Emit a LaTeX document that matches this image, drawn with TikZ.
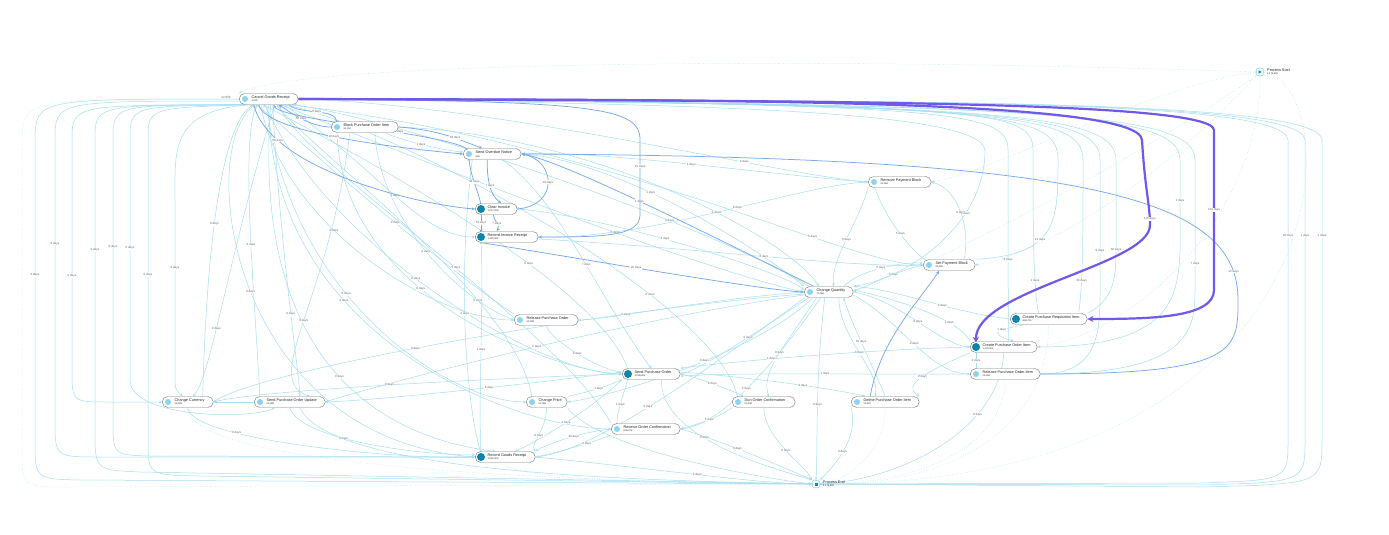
\documentclass[tikz,border=0pt]{standalone}
\usepackage{fontspec}
\setmainfont{Liberation Sans}
\usetikzlibrary{arrows.meta,calc}
\pgfdeclarelayer{bg}
\pgfsetlayers{bg,main}
\definecolor{eb}{RGB}{165,222,241}
\definecolor{mb}{RGB}{120,168,236}
\definecolor{pp}{RGB}{112,88,232}
\definecolor{dk}{RGB}{12,132,172}
\definecolor{lc}{RGB}{140,212,236}
\definecolor{bd}{RGB}{125,125,125}
\tikzset{
 actbox/.style={draw=bd, line width=0.45pt, fill=white, rounded corners=5.5pt, minimum height=11pt, inner sep=0, anchor=west},
 ldot/.style={circle, fill=lc, minimum size=6pt, inner sep=0},
 ddot/.style={circle, fill=dk, minimum size=8pt, inner sep=0},
 atext/.style={anchor=west, align=left, inner sep=0, text=black!85, font=\fontsize{3.8}{4.2}\selectfont},
 e/.style={draw=eb, line width=0.5pt, -{Stealth[length=3pt,width=2.6pt]}},
 ed/.style={e, dotted},
 em/.style={draw=mb, line width=0.75pt, -{Stealth[length=3.5pt,width=3pt]}},
 ep/.style={draw=pp, line width=2.2pt, -{Stealth[length=6pt,width=6pt]}},
 lbl/.style={font=\fontsize{3}{3}\selectfont, text=black!60, fill=white, inner sep=0.4pt},
 pend/.style={draw=lc, line width=0.6pt, fill=white, rounded corners=1.5pt, minimum size=7.5pt, inner sep=0}
}
\newcommand\actnode[7]{%
 \node[actbox, minimum width={#3-#2}] (#1) at (#2,#4) {};
 \node[#7] (#1C) at (#2+6,#4) {};
 \node[atext] (#1T) at (#2+12.5,#4) {#5\\[-0.9pt]{\fontsize{2.4}{2.8}\selectfont #6}};
}
\begin{document}
\begin{tikzpicture}[x=1pt,y=-1pt]
\path[use as bounding box] (0,0) rectangle (1389,535);
\begin{pgfonlayer}{bg}
\fill[white] (0,0) rectangle (1389,535);
\end{pgfonlayer}
% ---------- nodes ----------
\node[pend] (ps) at (1260,72) {};
\fill[dk] (1258.6,70.2) -- (1258.6,73.8) -- (1261.8,72) -- cycle;
\node[atext] (psT) at (1267,72) {Process Start\\[-0.9pt]{\fontsize{2.4}{2.8}\selectfont 1,175,808}};
\node[pend] (pe) at (816,484) {};
\node[fill=dk, minimum size=3pt, inner sep=0] (peI) at (816,484) {};
\node[atext] (peT) at (823,484) {Process End\\[-0.9pt]{\fontsize{2.4}{2.8}\selectfont 1,175,808}};
\actnode{cgr}{239}{298}{99}{Cancel Goods Receipt}{3,602}{ldot}
\actnode{bpoi}{331}{398}{127}{Block Purchase Order Item}{51,350}{ldot}
\actnode{son}{463}{521}{154}{Send Overdue Notice}{836}{ldot}
\actnode{rpb}{868}{931}{182}{Remove Payment Block}{25,058}{ldot}
\actnode{ci}{475}{517}{209}{Clear Invoice}{1,217,028}{ddot}
\actnode{rir}{475}{538}{237}{Record Invoice Receipt}{1,125,092}{ddot}
\actnode{spb}{923}{975}{265}{Set Payment Block}{25,050}{ldot}
\actnode{cq}{804}{853}{292}{Change Quantity}{70,068}{ldot}
\actnode{rpo}{514}{578}{320}{Release Purchase Order}{25,008}{ldot}
\actnode{cpri}{1010}{1087}{319}{Create Purchase Requisition Item}{838,700}{ddot}
\actnode{cpoi}{970}{1037}{347}{Create Purchase Order Item}{1,175,006}{ddot}
\actnode{spo}{622}{680}{374}{Send Purchase Order}{1,036,604}{ddot}
\actnode{rpoi}{970}{1040}{374}{Release Purchase Order Item}{25,006}{ldot}
\actnode{cc}{162}{213}{402}{Change Currency}{25,008}{ldot}
\actnode{spou}{254}{325}{402}{Send Purchase Order Update}{25,008}{ldot}
\actnode{cp}{526}{567}{402}{Change Price}{50,058}{ldot}
\actnode{doc}{732}{795}{402}{Dun Order Confirmation}{50,138}{ldot}
\actnode{dpoi}{851}{919}{402}{Delete Purchase Order Item}{25,522}{ldot}
\actnode{roc}{611}{680}{429}{Receive Order Confirmation}{506,276}{ldot}
\actnode{rgr}{475}{535}{457}{Record Goods Receipt}{1,015,006}{ddot}
\begin{pgfonlayer}{bg}
% ---------- dotted (start / end) ----------
\draw[ed] (ps.west) .. controls (800,56) and (300,62) .. (cgr.north west);
\node[lbl] (lps) at (226,98) {22,659};
\draw[ed] (ps.south west) .. controls (1150,150) and (950,260) .. (cq.east);
\draw[ed] (ps.west) .. controls (1150,85) and (1000,170) .. (rpb.east);
\draw[ed] (ps.south west) .. controls (1180,160) and (1060,250) .. (spb.east);
\draw[ed] (ps.south) .. controls (1262,200) and (1150,330) .. (cpoi.east);
\draw[ed] (ps.east) .. controls (1352,90) and (1345,484) .. (pe.east);
\draw[ed] (cgr.west) .. controls (24,99) .. (22,140) -- (22,450) .. controls (22,487) .. (70,487) -- (pe.west);
\draw[ed] (cc.south) .. controls (188,470) and (600,482) .. (pe.west);
\draw[ed] (rgr.south) .. controls (505,480) and (700,486) .. (pe.west);
\draw[ed] (cpri.south) .. controls (1048,430) and (950,486) .. (pe.east);
\draw[ed] (rpoi.south) .. controls (1005,440) and (930,484) .. (pe.east);
\draw[ed] (dpoi.south) .. controls (885,450) and (850,480) .. (pe.east);
% ---------- left fan from Cancel Goods Receipt ----------
\draw[e] (cgr.west) .. controls (36,99) .. (35,140) -- (35,440) node[lbl,pos=0.45]{0 days} .. controls (35,479) .. (80,480) -- (pe.west);
\draw[e] ([yshift=-2]cgr.west) .. controls (55,101) .. (55,140) -- (55,420) node[lbl,pos=0.37]{0 days} .. controls (55,457) .. (100,457) -- (rgr.west);
\draw[e] ([xshift=2]cgr.south west) .. controls (72,105) .. (72,140) -- (72,370) node[lbl,pos=0.59]{0 days} .. controls (72,402) .. (110,402) -- (cc.west);
\draw[e] ([xshift=4]cgr.south west) .. controls (95,105) .. (95,140) -- (95,430) node[lbl,pos=0.38]{0 days} .. controls (95,470) .. (140,472) -- (pe.west);
\draw[e] ([xshift=6]cgr.south west) .. controls (113,105) .. (113,140) -- (113,420) node[lbl,pos=0.38]{0 days} .. controls (113,455) .. (150,456) -- (rgr.west);
\draw[e] ([xshift=8]cgr.south west) .. controls (130,106) .. (130,140) -- (130,380) node[lbl,pos=0.45]{0 days} .. controls (130,418) and (250,420) .. ([xshift=-15]spou.south);
\draw[e] ([xshift=10]cgr.south west) .. controls (148,108) .. (148,140) -- (148,440) node[lbl,pos=0.45]{0 days} .. controls (148,475) .. (200,476) -- (pe.west);
\draw[e] ([xshift=12]cgr.south west) .. controls (170,110) and (175,150) .. (175,200) -- (175,370) node[lbl,pos=0.4]{0 days} .. controls (175,390) .. ([xshift=-5]cc.north);
\draw[e] ([xshift=15]cc.north) .. controls (205,300) and (215,130) .. ([xshift=14]cgr.south west) node[lbl,pos=0.5]{0 days};
\draw[e] (spouC.north) .. controls (255,300) and (240,140) .. ([xshift=18]cgr.south west) node[lbl,pos=0.45]{0 days};
\draw[e] (rgr.west) .. controls (230,440) and (195,150) .. ([xshift=16]cgr.south west) node[lbl,pos=0.5]{0 days};
% ---------- mid fan ----------
\draw[e] ([xshift=-8]cgr.south) .. controls (280,220) and (430,320) .. (rpo.west) node[lbl,pos=0.4]{0 days};
\draw[e] ([xshift=-4]cgr.south) .. controls (330,250) and (540,374) .. (spo.west) node[lbl,pos=0.45]{0 days};
\draw[e] ([xshift=-2]cgr.south) .. controls (290,300) and (450,402) .. (cp.west) node[lbl,pos=0.4]{0 days};
\draw[e] (cgr.south) .. controls (270,340) and (520,429) .. (roc.west) node[lbl,pos=0.35]{0 days};
\draw[e] ([xshift=2]cgr.south) .. controls (250,380) and (400,440) .. ([xshift=-10]rgr.north) node[lbl,pos=0.5]{0 days};
\draw[e] ([xshift=4]cgr.south) .. controls (280,250) and (300,380) .. ([xshift=10]spou.north) node[lbl,pos=0.55]{0 days};
\draw[e] ([xshift=6]cgr.south) .. controls (230,250) and (210,380) .. ([xshift=5]cc.north) node[lbl,pos=0.6]{0 days};
\draw[e] ([xshift=12]cgr.south) .. controls (420,160) and (700,270) .. (cq.west) node[lbl,pos=0.6]{0 days};
\draw[e] ([xshift=15]cgr.south) .. controls (380,170) and (420,237) .. (rir.west) node[lbl,pos=0.5]{1 days};
\draw[e] (cgr.east) .. controls (500,105) and (780,175) .. (rpb.west) node[lbl,pos=0.7]{9 days};
\draw[e] ([xshift=20]cgr.south) .. controls (600,140) and (850,265) .. (spb.west) node[lbl,pos=0.7]{5 days};
\draw[e] (rpo.north west) .. controls (420,250) and (300,140) .. ([xshift=-12]cgr.south) node[lbl,pos=0.4]{0 days};
\draw[e] (spoC.north) .. controls (600,280) and (330,140) .. ([xshift=-6]cgr.south) node[lbl,pos=0.35]{0 days};
\draw[e] (cpC.north) .. controls (520,300) and (310,150) .. ([xshift=8]cgr.south) node[lbl,pos=0.3]{0 days};
\draw[e] (roc.north west) .. controls (560,330) and (300,160) .. ([xshift=10]cgr.south) node[lbl,pos=0.45]{0 days};
\draw[e] (docC.north) .. controls (720,300) and (380,120) .. ([xshift=14]cgr.south) node[lbl,pos=0.3]{0 days};
\draw[e] ([xshift=-20]cq.north) .. controls (700,220) and (400,120) .. ([xshift=25]cgr.south) node[lbl,pos=0.3]{0 days};
% ---------- block PO item / overdue notice ----------
\draw[e] (bpoiC.south) .. controls (340,300) and (560,372) .. (spo.west) node[lbl,pos=0.4]{0 days};
\draw[e] ([xshift=-15]bpoi.south) .. controls (330,300) and (260,380) .. ([xshift=20]spou.north) node[lbl,pos=0.5]{0 days};
\draw[e] ([xshift=10]bpoi.south) .. controls (380,220) and (460,300) .. (rpo.west) node[lbl,pos=0.5]{0 days};
\draw[e] (bpoi.east) .. controls (600,135) and (790,240) .. ([xshift=-10]cq.north) node[lbl,pos=0.6]{1 days};
\draw[e] ([xshift=-20]son.south) .. controls (455,300) and (470,420) .. (rgrC.north) node[lbl,pos=0.4]{1 days};
\draw[e] (son.east) .. controls (620,160) and (760,250) .. (cq.north west) node[lbl,pos=0.4]{1 days};
\draw[e] ([xshift=10]son.south) .. controls (560,200) and (600,300) .. (spo.north) node[lbl,pos=0.55]{7 days};
\draw[e] (rir.east) .. controls (650,240) and (800,185) .. (rpb.west) node[lbl,pos=0.55]{9 days};
\draw[e] ([yshift=-2]rir.east) .. controls (700,248) and (850,268) .. (spb.west) node[lbl,pos=0.5]{0 days};
\draw[e] (ci.east) .. controls (600,215) and (780,270) .. ([yshift=2]cq.west) node[lbl,pos=0.45]{8 days};
\draw[e] (rgrC.north) .. controls (478,400) and (484,300) .. (rirC.south) node[lbl,pos=0.5]{1 days};
\draw[e] (rpo.south) .. controls (550,340) and (600,370) .. ([yshift=2]spo.west) node[lbl,pos=0.5]{0 days};
% ---------- Change Quantity fan ----------
\draw[e] ([xshift=-20]cq.south) .. controls (760,330) and (700,370) .. (spo.east) node[lbl,pos=0.4]{0 days};
\draw[e] ([xshift=-16]cq.south) .. controls (760,350) and (620,395) .. (cp.east) node[lbl,pos=0.45]{0 days};
\draw[e] ([xshift=-12]cq.south) .. controls (790,340) and (760,370) .. ([xshift=5]doc.north) node[lbl,pos=0.5]{0 days};
\draw[e] ([xshift=10]cq.south) .. controls (840,340) and (880,370) .. ([xshift=-10]dpoi.north) node[lbl,pos=0.5]{0 days};
\draw[e] ([xshift=-8]cq.south) .. controls (770,370) and (720,425) .. (roc.east) node[lbl,pos=0.5]{0 days};
\draw[e] ([xshift=-24]cq.south) .. controls (720,360) and (600,450) .. (rgr.east) node[lbl,pos=0.55]{0 days};
\draw[e] ([xshift=-4]cq.south) .. controls (815,380) and (818,440) .. (pe.north) node[lbl,pos=0.5]{0 days};
\draw[e] (cq.west) .. controls (700,300) and (620,318) .. (rpo.east) node[lbl,pos=0.7]{0 days};
\draw[e] ([yshift=-2]cq.west) .. controls (600,310) and (260,370) .. (cc.east) node[lbl,pos=0.55]{0 days};
\draw[e] ([yshift=-3]cq.west) .. controls (620,320) and (360,390) .. (spou.east) node[lbl,pos=0.45]{0 days};
\draw[e] (cq.east) .. controls (900,300) and (940,345) .. (cpoi.west) node[lbl,pos=0.5]{0 days};
\draw[e] ([yshift=-3]cq.east) .. controls (900,320) and (930,374) .. (rpoi.west) node[lbl,pos=0.5]{0 days};
\draw[e] (cpri.west) .. controls (950,312) and (900,290) .. (cq.north east) node[lbl,pos=0.4]{2 days};
\draw[e] (cpoi.north west) .. controls (960,320) and (900,300) .. ([yshift=2]cq.east) node[lbl,pos=0.3]{1 days};
\draw[e] (rpb.south west) .. controls (860,220) and (830,260) .. ([xshift=5]cq.north) node[lbl,pos=0.5]{0 days};
\draw[e] (spb.west) .. controls (900,270) and (870,285) .. ([yshift=1]cq.east) node[lbl,pos=0.4]{0 days};
\draw[e] ([xshift=15]cq.north) .. controls (860,270) and (900,262) .. ([yshift=2]spb.west) node[lbl,pos=0.5]{0 days};
\draw[e] (rpbC.south) .. controls (885,220) and (915,255) .. (spbC.north) node[lbl,pos=0.5]{5 days};
\draw[e] ([xshift=15]spb.north) .. controls (970,230) and (960,190) .. (rpb.east) node[lbl,pos=0.5]{8 days};
\draw[e] (dpoi.north) .. controls (870,360) and (850,320) .. ([xshift=15]cq.south) node[lbl,pos=0.5]{20 days};
% ---------- Send Purchase Order and lower nodes ----------
\draw[e] (spoC.south) .. controls (622,400) and (617,410) .. (rocC.north) node[lbl,pos=0.5]{1 days};
\draw[e] (spo.east) .. controls (700,378) and (725,388) .. ([xshift=-20]doc.north) node[lbl,pos=0.5]{9 days};
\draw[e] ([yshift=2]spo.east) .. controls (760,378) and (840,390) .. ([xshift=-20]dpoi.north) node[lbl,pos=0.55]{9 days};
\draw[e] (spo.south west) .. controls (590,410) and (540,440) .. ([xshift=10]rgr.north) node[lbl,pos=0.5]{4 days};
\draw[e] (spo.west) .. controls (500,378) and (260,390) .. (cc.east) node[lbl,pos=0.5]{8 days};
\draw[e] ([yshift=2]spo.west) .. controls (520,385) and (380,400) .. (spou.east) node[lbl,pos=0.4]{8 days};
\draw[e] ([xshift=10]spo.south) .. controls (660,440) and (780,470) .. (pe.north west) node[lbl,pos=0.4]{0 days};
\draw[e] (cpoi.west) .. controls (850,350) and (700,365) .. (spo.north east) node[lbl,pos=0.55]{1 days};
\draw[e] (rpoi.west) .. controls (900,375) and (750,372) .. ([yshift=-2]spo.east) node[lbl,pos=0.5]{1 days};
\draw[e] (cp.south) .. controls (546,430) and (530,445) .. (rgr.north east) node[lbl,pos=0.5]{8 days};
\draw[e] (cp.north east) .. controls (590,392) and (610,385) .. (spo.south west) node[lbl,pos=0.5]{1 days};
\draw[e] (cp.south east) .. controls (600,450) and (760,478) .. (pe.west);
\draw[e] (roc.east) .. controls (720,440) and (790,470) .. (pe.north west) node[lbl,pos=0.4]{0 days};
\draw[e] (roc.west) .. controls (580,432) and (545,445) .. (rgr.north east) node[lbl,pos=0.4]{30 days};
\draw[e] (rgr.east) .. controls (560,452) and (600,440) .. (roc.south west) node[lbl,pos=0.6]{0 days};
\draw[e] (doc.south west) .. controls (715,420) and (690,426) .. (roc.east) node[lbl,pos=0.4]{5 days};
\draw[e] (doc.south) .. controls (765,440) and (805,465) .. (pe.north west) node[lbl,pos=0.5]{0 days};
\draw[e] (dpoi.south west) .. controls (860,440) and (830,470) .. (pe.north east) node[lbl,pos=0.5]{0 days};
\draw[e] (cc.south) .. controls (190,440) and (400,460) .. (rgr.west) node[lbl,pos=0.3]{0 days};
\draw[e] (spou.south) .. controls (300,440) and (420,455) .. ([yshift=2]rgr.west) node[lbl,pos=0.4]{0 days};
\draw[e] ([xshift=10]spou.south) .. controls (330,470) and (600,480) .. (pe.west);
\draw[e] (spou.west) -- (cc.east);
\draw[e] (rgr.east) .. controls (650,468) and (760,484) .. (pe.west) node[lbl,pos=0.5]{0 days};
% ---------- right nodes ----------
\draw[e] ([xshift=-25]cpri.south) .. controls (1000,330) and (985,332) .. ([xshift=10]cpoi.north) node[lbl,pos=0.4]{1 days};
\draw[e] (cpoiC.south) -- (rpoiC.north) node[lbl,pos=0.5]{2 days};
\draw[e] (cpoi.south west) .. controls (930,370) and (900,385) .. (dpoi.north east) node[lbl,pos=0.5]{0 days};
\draw[e] (cpoi.south) .. controls (1000,430) and (900,480) .. (pe.east) node[lbl,pos=0.3]{0 days};
\draw[e] ([xshift=5]cpoi.north) .. controls (1008,300) and (1008,200) .. (1008,150) node[lbl,pos=0.45]{9 days} .. controls (1008,110) and (950,104) .. (cgr.east);
\draw[e] ([xshift=-10]cpri.north) .. controls (1033,290) and (1033,220) .. (1033,150) node[lbl,pos=0.3]{1 days} .. controls (1033,108) and (980,104) .. (cgr.east);
\draw[e] (spb.north east) .. controls (1058,255) and (1058,220) .. (1058,160) node[lbl,pos=0.4]{21 days} .. controls (1058,110) and (1000,104) .. (cgr.east);
\draw[e] ([xshift=30]cpri.north) .. controls (1083,280) and (1083,240) .. (1083,160) node[lbl,pos=0.3]{33 days} .. controls (1083,112) and (1000,104) .. (cgr.east);
\draw[e] (rpoi.east) .. controls (1100,374) and (1100,330) .. (1100,290) -- (1100,160) node[lbl,pos=0.3]{9 days} .. controls (1100,112) and (1000,104) .. (cgr.east);
\draw[e] (cpri.north east) .. controls (1113,300) and (1116,280) .. (1116,250) node[lbl,pos=1]{30 days} -- (1116,160) .. controls (1116,112) and (1000,104) .. (cgr.east);
\draw[e] (cpoi.east) .. controls (1170,347) and (1178,300) .. (1180,250) -- (1180,160) node[lbl,pos=0.55]{1 days} .. controls (1180,112) and (1050,104) .. (cgr.east);
\draw[e] (rpoi.east) .. controls (1190,374) and (1195,330) .. (1195,290) -- (1195,160) node[lbl,pos=0.2]{7 days} .. controls (1195,112) and (1050,104) .. (cgr.east);
\draw[e] (cgr.east) .. controls (900,101) and (1285,98) .. (1288,140) -- (1288,440) node[lbl,pos=0.32]{30 days} .. controls (1288,480) .. (1200,483) -- (pe.east);
\draw[e] (cgr.east) .. controls (900,101) and (1302,98) .. (1305,140) -- (1305,440) node[lbl,pos=0.32]{1 days} .. controls (1305,482) .. (1200,485) -- (pe.east);
\draw[e] (cgr.east) .. controls (900,101) and (1320,98) .. (1322,140) -- (1322,440) node[lbl,pos=0.32]{1 days} .. controls (1322,484) .. (1200,487) -- (pe.east);
\draw[e] (cgr.east) .. controls (700,104) and (980,110) .. (985,150) .. controls (985,230) and (900,280) .. (cq.north east) node[lbl,pos=0.3]{0 days};
% ---------- medium blue ----------
\draw[em] ([xshift=20]cgr.south) .. controls (300,115) and (336,108) .. (bpoiC.north) node[lbl,pos=0.5]{8 days};
\draw[em] (bpoi.west) .. controls (310,127) and (290,112) .. ([xshift=10]cgr.south) node[lbl,pos=0.5]{50 days};
\draw[em] ([xshift=-10]cgr.south) .. controls (265,135) and (420,150) .. (son.west) node[lbl,pos=0.45]{19 days};
\draw[em] (sonC.north) .. controls (460,135) and (280,120) .. ([xshift=5]cgr.south) node[lbl,pos=0.4]{87 days};
\draw[em] ([xshift=-15]cgr.south) .. controls (270,170) and (420,205) .. (ci.west) node[lbl,pos=0.2]{98 days};
\draw[em] (bpoi.east) .. controls (440,130) and (460,140) .. ([xshift=-10]son.north) node[lbl,pos=0.6]{30 days};
\draw[e] ([xshift=20]bpoi.south) .. controls (400,140) and (440,150) .. ([yshift=2]son.west) node[lbl,pos=0.5]{1 days};
\draw[em] ([xshift=-5]son.south) .. controls (487,180) and (490,195) .. ([xshift=5]ci.north) node[lbl,pos=0.5]{7 days};
\draw[em] (ciC.north) .. controls (478,190) and (470,175) .. (sonC.south) node[lbl,pos=0.5]{43 days};
\draw[em] (ciC.south) -- (rirC.north) node[lbl,pos=0.5]{53 days};
\draw[em] ([xshift=-3]ci.south) .. controls (495,222) and (500,226) .. ([xshift=-10]rir.north) node[lbl,pos=0.5]{7 days};
\draw[em] ([xshift=-25]rir.south) .. controls (560,255) and (760,290) .. (cq.west) node[lbl,pos=0.45]{26 days};
\draw[em] ([xshift=-15]cq.north) .. controls (700,230) and (560,160) .. (son.east) node[lbl,pos=0.5]{1 days};
\draw[em] (ci.east) .. controls (560,205) and (555,160) .. (son.east) node[lbl,pos=0.5]{10 days};
\draw[e] (rpb.west) .. controls (780,176) and (600,150) .. (son.east) node[lbl,pos=0.5]{1 days};
\draw[em] (cgr.east) .. controls (600,101) and (640,108) .. (640,140) -- (640,215) node[lbl,pos=0.35]{21 days} .. controls (640,237) and (600,237) .. (rir.east);
\draw[em] (rpoi.east) .. controls (1238,374) and (1238,350) .. (1238,300) .. controls (1238,200) and (1100,157) .. (son.east) node[lbl,pos=0.1]{10 days};
\draw[em] ([xshift=-15]dpoi.north) .. controls (880,340) and (920,300) .. ([xshift=-10]spb.south);
% ---------- purple main path ----------
\draw[ep] (cgr.east) .. controls (700,100) and (1140,98) .. (1142,140) .. controls (1145,190) and (1150,205) .. (1150,225) node[lbl,pos=0.9]{110 days} .. controls (1150,265) and (975,290) .. (cpoiC.north);
\draw[ep] (cgr.east) .. controls (800,101) and (1212,100) .. (1214,130) -- (1214,290) node[lbl,pos=0.5]{122 days} .. controls (1214,318) and (1150,319) .. (cpri.east);
\end{pgfonlayer}
\end{tikzpicture}
\end{document}
